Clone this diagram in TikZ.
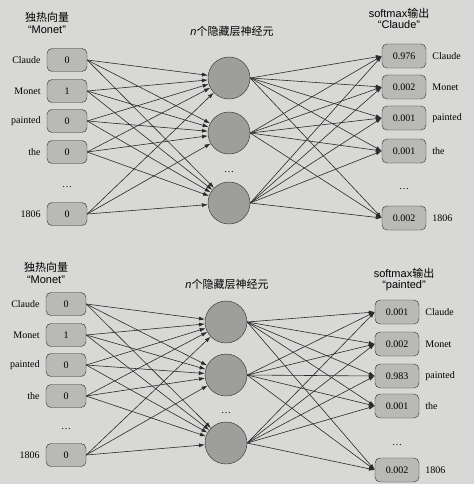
\documentclass[tikz,border=0pt]{standalone}
\usepackage{fontspec}
\setmainfont{Liberation Serif}
\newfontfamily\cjk{Noto Sans CJK SC}
\newfontfamily\hdfont{Liberation Sans}
\usetikzlibrary{positioning,arrows.meta}
\definecolor{paper}{HTML}{D8D8D6}
\definecolor{boxgray}{HTML}{B9B9B7}
\definecolor{cellgray}{HTML}{9E9E9C}
\definecolor{inkgray}{HTML}{2A2A2A}

\begin{document}
\begin{tikzpicture}[x=1pt,y=-1pt]
		\tikzset{
			vecbox/.style={draw=inkgray, fill=boxgray, rounded corners=5pt, minimum width=40pt, minimum height=23pt, inner sep=0pt, font=\fontsize{10}{12}\selectfont},
			outbox/.style={vecbox, minimum width=44pt, minimum height=24pt},
			cell/.style={circle, draw=inkgray, fill=cellgray, minimum size=42pt, inner sep=0pt},
			word/.style={inner sep=0pt, font=\fontsize{10}{12}\selectfont},
			head/.style={inner sep=0pt, font=\fontsize{11}{13}\selectfont},
			conn/.style={draw=inkgray, line width=0.6pt, -{Latex[length=6pt,width=4pt]}}
		}
		\fill [paper] (0,0) rectangle (474,484);
		% top: target word "Claude"
		\node [head] (atitA) at (47,17) {\cjk 独热向量};
		\node [head] (atitB) at (47,30) {\hdfont “Monet”};
		\node [head] (atitH) at (232,31) {{\hdfont\itshape n}\cjk 个隐藏层神经元};
		\node [head] (atitO) at (399,13) {\hdfont softmax\cjk 输出};
		\node [head] (atitC) at (399,25) {\hdfont “Claude”};
		\node [vecbox] (ai1) at (67,60) {0};
		\node [vecbox] (ai2) at (67,91) {1};
		\node [vecbox] (ai3) at (67,121) {0};
		\node [vecbox] (ai4) at (67,152) {0};
		\node [word] (aid) at (67,187) {\dots};
		\node [vecbox] (ai5) at (67,214) {0};
		\node [word, left=6pt of ai1] {Claude};
		\node [word, left=6pt of ai2] {Monet};
		\node [word, left=6pt of ai3] {painted};
		\node [word, left=6pt of ai4] {the};
		\node [word, left=6pt of ai5] {1806};
		\node [cell] (ah1) at (229,78) {};
		\node [cell] (ah2) at (229,133) {};
		\node [word] (ahd) at (229,172) {\dots};
		\node [cell] (ah3) at (229,203) {};
		\node [outbox] (ao1) at (404,56) {0.976};
		\node [outbox] (ao2) at (404,87) {0.002};
		\node [outbox] (ao3) at (404,118) {0.001};
		\node [outbox] (ao4) at (404,151) {0.001};
		\node [word] (aod) at (404,189) {\dots};
		\node [outbox] (ao5) at (404,218) {0.002};
		\node [word, right=6pt of ao1] {Claude};
		\node [word, right=6pt of ao2] {Monet};
		\node [word, right=6pt of ao3] {painted};
		\node [word, right=6pt of ao4] {the};
		\node [word, right=6pt of ao5] {1806};
		% bottom: target word "painted"
		\node [head] (btitA) at (46,267) {\cjk 独热向量};
		\node [head] (btitB) at (46,280) {\hdfont “Monet”};
		\node [head] (btitH) at (227,284) {{\hdfont\itshape n}\cjk 个隐藏层神经元};
		\node [head] (btitO) at (404,273) {\hdfont softmax\cjk 输出};
		\node [head] (btitC) at (404,286) {\hdfont “painted”};
		\node [vecbox] (bi1) at (66,304) {0};
		\node [vecbox] (bi2) at (66,335) {1};
		\node [vecbox] (bi3) at (66,365) {0};
		\node [vecbox] (bi4) at (66,396) {0};
		\node [word] (bid) at (66,429) {\dots};
		\node [vecbox] (bi5) at (66,455) {0};
		\node [word, left=6pt of bi1] {Claude};
		\node [word, left=6pt of bi2] {Monet};
		\node [word, left=6pt of bi3] {painted};
		\node [word, left=6pt of bi4] {the};
		\node [word, left=6pt of bi5] {1806};
		\node [cell] (bh1) at (226,322) {};
		\node [cell] (bh2) at (226,375) {};
		\node [word] (bhd) at (226,413) {\dots};
		\node [cell] (bh3) at (226,443) {};
		\node [outbox] (bo1) at (397,312) {0.001};
		\node [outbox] (bo2) at (397,344) {0.002};
		\node [outbox] (bo3) at (397,376) {0.983};
		\node [outbox] (bo4) at (397,406) {0.001};
		\node [word] (bod) at (397,445) {\dots};
		\node [outbox] (bo5) at (397,470) {0.002};
		\node [word, right=6pt of bo1] {Claude};
		\node [word, right=6pt of bo2] {Monet};
		\node [word, right=6pt of bo3] {painted};
		\node [word, right=6pt of bo4] {the};
		\node [word, right=6pt of bo5] {1806};
		% every input to every hidden cell, every hidden cell to every output
		\foreach \p in {a,b}
			\foreach \i in {1,...,5}
				\foreach \j in {1,2,3} {
					\draw [conn] (\p i\i.east) -- (\p h\j);
					\draw [conn] (\p h\j.east) -- (\p o\i.west);
				}
\end{tikzpicture}
\end{document}
